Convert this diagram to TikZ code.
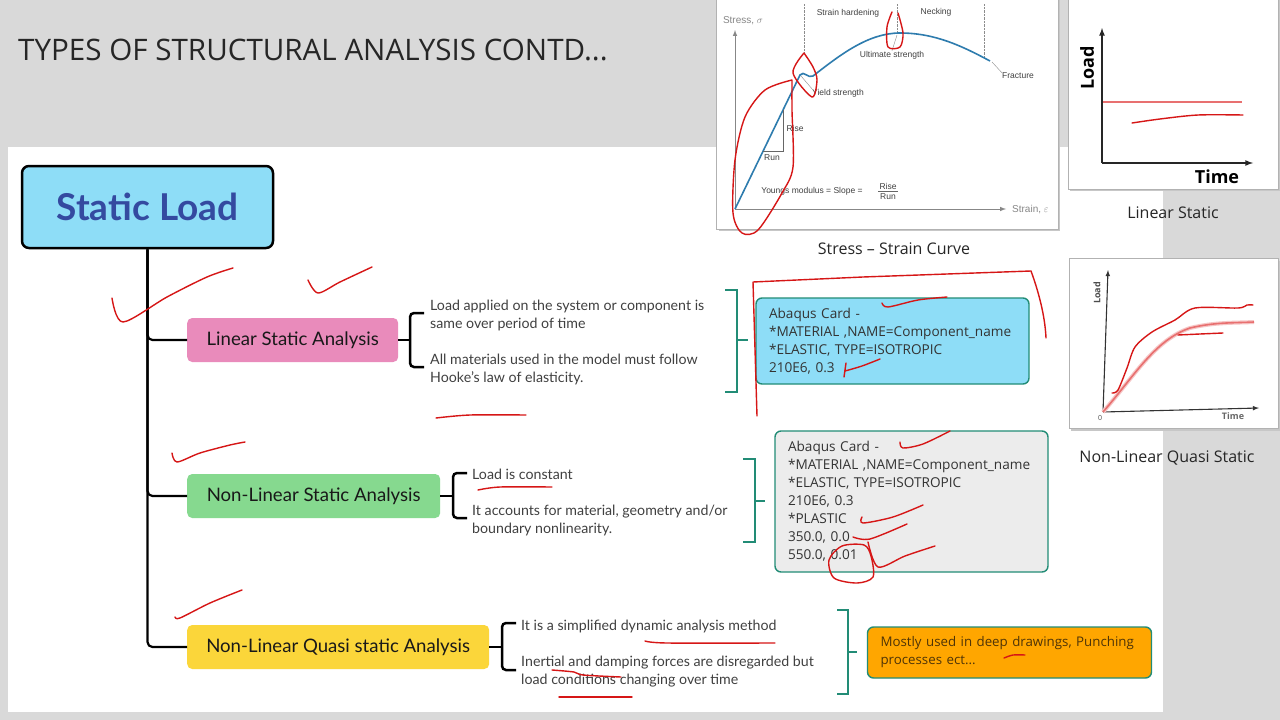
\documentclass[tikz,border=0pt]{standalone}
\usepackage{fontspec}
\setmainfont{Lato}
\newfontfamily\slidefont{Open Sans}
\newfontfamily\plotfont{Liberation Sans}
\usetikzlibrary{positioning}
\definecolor{slidegray}{RGB}{217,217,217}
\definecolor{skyfill}{RGB}{142,221,247}
\definecolor{rootblue}{RGB}{52,74,160}
\definecolor{pinkfill}{RGB}{233,139,187}
\definecolor{greenfill}{RGB}{134,217,143}
\definecolor{yellowfill}{RGB}{251,214,58}
\definecolor{orangefill}{RGB}{255,166,0}
\definecolor{tealline}{RGB}{34,140,118}
\definecolor{cardgray}{RGB}{236,236,236}
\definecolor{inkred}{RGB}{214,22,22}
\definecolor{curveblue}{RGB}{46,124,174}
\definecolor{loadred}{RGB}{232,112,112}
\definecolor{axisgray}{RGB}{135,135,135}

\begin{document}
\begin{tikzpicture}
		[x=1pt,y=-1pt,>=latex,
		root/.style={draw=black,line width=2.5pt,rounded corners=7pt,fill=skyfill,minimum width=251pt,minimum height=82pt,text=rootblue,font=\bfseries\fontsize{37}{42}\selectfont},
		topic/.style={rounded corners=5pt,minimum height=44pt,anchor=west,text=black!90,font=\fontsize{18.6}{22}\selectfont},
		note/.style={anchor=base west,inner sep=0pt,align=left,text=black!75,font=\fontsize{14.2}{18}\selectfont},
		card/.style={draw=tealline,line width=1.4pt,rounded corners=6pt,inner xsep=13pt,align=left,text=black!80,font=\slidefont\fontsize{13.6}{18}\selectfont},
		trunk/.style={line width=2.2pt,rounded corners=5pt},
		bracestroke/.style={line width=2.5pt,rounded corners=4pt},
		bracket/.style={draw=tealline,line width=1.6pt},
		frame/.style={draw=black!30,fill=white},
		lbl/.style={inner sep=0pt,text=black!75,font=\plotfont\fontsize{8.5}{10}\selectfont},
		caption/.style={inner sep=0pt,text=black!85,font=\slidefont\fontsize{16}{20}\selectfont},
		ink/.style={draw=inkred,line width=1.4pt,line cap=round,line join=round}]
		\useasboundingbox (0,0) rectangle (1280,720);
		\fill[slidegray] (0,0) rectangle (1280,720);
		\fill[white] (8,147) rectangle (1163,712);

		\node [anchor=base west,inner sep=0pt,text=black!85,font=\slidefont\fontsize{29.6}{34}\selectfont] (title) at (18,60) {TYPES OF STRUCTURAL ANALYSIS CONTD...};

		\node [root] (static) at (147.5,207) {Static Load};
		\node [topic,fill=pinkfill,minimum width=211pt] (ls) at (187,340) {Linear Static Analysis};
		\node [topic,fill=greenfill,minimum width=253pt] (nls) at (187,496) {Non-Linear Static Analysis};
		\node [topic,fill=yellowfill,minimum width=302pt] (nqs) at (187,647) {Non-Linear Quasi static Analysis};
		\draw [trunk] (static.south) |- (ls.west);
		\draw [trunk] (static.south) |- (nls.west);
		\draw [trunk] (static.south) |- (nqs.west);

		\coordinate (lsb) at (410,340);
		\coordinate (nlsb) at (453,496);
		\coordinate (nqsb) at (502,647);
		\draw [bracestroke] (ls.east) -- (lsb);
		\draw [bracestroke] (424,313) -- (410,313) -- (410,367) -- (424,367);
		\draw [bracestroke] (nls.east) -- (nlsb);
		\draw [bracestroke] (467,473) -- (453,473) -- (453,518) -- (467,518);
		\draw [bracestroke] (nqs.east) -- (nqsb);
		\draw [bracestroke] (516,623) -- (502,623) -- (502,670) -- (516,670);

		\node [note] (ls1) at (430,328) {Load applied on the system or component is\\same over period of time};
		\node [note] (ls2) at (430,382) {All materials used in the model must follow\\Hooke's law of elasticity.};
		\node [note] (nls1) at (472,479) {Load is constant};
		\node [note] (nls2) at (472,533) {It accounts for material, geometry and/or\\boundary nonlinearity.};
		\node [note] (nqs1) at (521,630) {It is a simplified dynamic analysis method};
		\node [note] (nqs2) at (521,684) {Inertial and damping forces are disregarded but\\load conditions changing over time};

		\draw [bracket] (725,290) -- (737,290) -- (737,392) -- (725,392);
		\draw [bracket] (737,340) -- (748,340);
		\draw [bracket] (743,459) -- (755,459) -- (755,542) -- (743,542);
		\draw [bracket] (755,501) -- (765,501);
		\draw [bracket] (837,610) -- (848,610) -- (848,694) -- (837,694);
		\draw [bracket] (848,652) -- (857,652);

		\node [card,fill=skyfill,text width=247pt,minimum height=86pt] (lscard) at (892.5,341) {Abaqus Card -\\{*}MATERIAL ,NAME=Component\_name\\{*}ELASTIC, TYPE=ISOTROPIC\\210E6, 0.3};
		\node [card,fill=cardgray,text width=247pt,minimum height=141pt] (nlscard) at (911.5,501.5) {Abaqus Card -\\{*}MATERIAL ,NAME=Component\_name\\{*}ELASTIC, TYPE=ISOTROPIC\\210E6, 0.3\\{*}PLASTIC\\350.0, 0.0\\550.0, 0.01};
		\node [card,fill=orangefill,text width=258pt,minimum height=51pt,font=\slidefont\fontsize{13.3}{18}\selectfont,text={rgb,255:red,78;green,52;blue,8}] (nqscard) at (1009.5,652.5) {Mostly used in deep drawings, Punching\\processes ect...};

		% stress strain picture
		\fill [black!22] (719,0) rectangle (1060,231);
		\draw [frame] (716,-2) rectangle (1058,229);
		\coordinate (so) at (735,209);
		\draw [axisgray,line width=1pt,->] (so) -- (735,30);
		\draw [axisgray,line width=1pt,->] (so) -- (1006,209);
		\node [lbl,text=axisgray,font=\plotfont\fontsize{10}{12}\selectfont] (stress) at (743,21) {Stress, $\sigma$};
		\node [lbl,text=axisgray,font=\plotfont\fontsize{10}{12}\selectfont,anchor=west] (strain) at (1012,210) {Strain, $\varepsilon$};
		\draw [black!45,densely dotted] (804,4) -- (804,53);
		\draw [black!45,densely dotted] (897,4) -- (897,34);
		\draw [black!45,densely dotted] (984,4) -- (984,58);
		\draw [curveblue,line width=1.6pt] (so) -- (800,75) .. controls (804,70) and (808,79) .. (813,76) .. controls (840,55) and (868,33) .. (900,33) .. controls (935,33) and (962,46) .. (990,61);
		\draw [black!60] (763,151) -- (783,151) -- (783,110);
		\node [lbl] (hard) at (848,13) {Strain hardening};
		\node [lbl] (neck) at (936,12) {Necking};
		\node [lbl] (ult) at (892,55) {Ultimate strength};
		\node [lbl] (yield) at (838,93) {Yield strength};
		\node [lbl] (frac) at (1018,76) {Fracture};
		\node [lbl] (rise) at (795,128) {Rise};
		\node [lbl] (run) at (772,158) {Run};
		\node [lbl] (young) at (812,191) {Youngs modulus = Slope =};
		\node [lbl] (frac1) at (888,186) {Rise};
		\node [lbl] (frac2) at (888,197) {Run};
		\draw [black!60] (878,191.5) -- (898,191.5);
		\draw [black!45] (ult.north) -- (897,35);
		\draw [black!45] (yield.north west) -- (801,76);
		\draw [black!45] (frac.north west) -- (992,62);
		\node [caption,below=34pt of so,xshift=159pt] (sscap) {Stress – Strain Curve};

		% load graphs
		\fill [black!22] (1070,0) rectangle (1280,191);
		\draw [frame] (1068,-2) rectangle (1278,189);
		\coordinate (lo) at (1102,163);
		\draw [black!85,line width=1.6pt,->] (lo) -- (1102,28);
		\draw [black!85,line width=1.6pt,->] (lo) -- (1253,163);
		\draw [loadred,line width=1.8pt] (1103,102) -- (1242,102);
		\node [rotate=90,inner sep=0pt,font=\slidefont\bfseries\fontsize{18}{20}\selectfont] (lload) at (1087,68) {Load};
		\node [inner sep=0pt,font=\slidefont\bfseries\fontsize{18}{20}\selectfont] (ltime) at (1217,177) {Time};
		\node [caption] (lcap) at (1173,213) {Linear Static};

		\fill [black!22] (1071,261) rectangle (1280,431);
		\draw [frame] (1069,258) rectangle (1278,428);
		\coordinate (qo) at (1103,412);
		\draw [black!80,line width=1.1pt,->] (qo) -- (1108,270);
		\draw [black!80,line width=1.1pt,->] (qo) -- (1259,408);
		\draw [loadred!40,line width=4pt] (qo) .. controls (1135,375) and (1155,340) .. (1190,328) .. controls (1215,322) and (1235,323) .. (1254,322);
		\draw [loadred,line width=1.6pt] (qo) .. controls (1135,375) and (1155,340) .. (1190,328) .. controls (1215,322) and (1235,323) .. (1254,322);
		\node [rotate=90,inner sep=0pt,text=black!70,font=\slidefont\bfseries\fontsize{9}{10}\selectfont] (qload) at (1097,293) {Load};
		\node [inner sep=0pt,text=black!60,font=\slidefont\bfseries\fontsize{9}{10}\selectfont] (qtime) at (1233,416) {Time};
		\node [inner sep=0pt,text=black!70,font=\slidefont\fontsize{7}{8}\selectfont] (qzero) at (1100,418) {0};
		\node [caption] (qcap) at (1167,458) {Non-Linear Quasi Static};

		% red pen
		\draw [ink] plot [smooth] coordinates {(112,298) (123,322) (167,297) (207,277) (233,268)};
		\draw [ink] plot [smooth] coordinates {(308,280) (318,293) (340,282) (372,267)};
		\draw [ink] plot [smooth] coordinates {(172,453) (177,462) (200,453) (230,445) (245,442)};
		\draw [ink] plot [smooth] coordinates {(175,617) (180,618) (210,603) (242,590)};
		\draw [ink] plot [smooth] coordinates {(436,418) (470,415) (526,415)};
		\draw [ink] (757,416) -- (753,282) -- (863,277) -- (1031,271) .. controls (1038,290) and (1045,315) .. (1046,338);
		\draw [ink] plot [smooth] coordinates {(882,303) (888,307) (918,300) (947,297)};
		\draw [ink] (846,363) -- (844,377);
		\draw [ink] plot [smooth] coordinates {(845,371) (862,366) (880,359)};
		\draw [ink] plot [smooth] coordinates {(478,490) (500,487) (552,487)};
		\draw [ink] plot [smooth] coordinates {(900,442) (903,448) (923,444) (950,431)};
		\draw [ink] plot [smooth] coordinates {(862,517) (863,523) (893,517) (923,505)};
		\draw [ink] plot [smooth] coordinates {(853,537) (870,539) (907,524)};
		\draw [ink] plot [smooth] coordinates {(868,542) (878,567) (905,556) (935,546)};
		\draw [ink] plot [smooth cycle] coordinates {(864,545) (842,546) (829,560) (834,578) (857,583) (873,577) (871,556)};
		\draw [ink] plot [smooth] coordinates {(645,641) (667,643) (775,643)};
		\draw [ink] plot [smooth] coordinates {(552,670) (574,672) (583,675) (621,677)};
		\draw [ink] plot [smooth] coordinates {(559,697) (632,697)};
		\draw [ink] plot [smooth] coordinates {(1004,658) (1013,655) (1025,655)};
		\draw [ink] plot [smooth] coordinates {(792,80) (765,90) (745,117) (735,160) (733,213) (742,233) (758,230) (782,193) (793,167) (792,110) (792,80)};
		\draw [ink] plot [smooth] coordinates {(804,53) (793,73) (812,97) (817,80) (813,67) (804,53)};
		\draw [ink] plot [smooth] coordinates {(892,12) (887,27) (888,47) (900,47) (903,33) (898,13)};
		\draw [ink] plot [smooth] coordinates {(1132,123) (1160,119) (1198,115) (1243,115)};
		\draw [ink] plot [smooth] coordinates {(1112,393) (1118,390) (1127,368) (1135,347) (1152,332) (1175,320) (1195,308) (1238,308) (1247,305) (1253,305)};
		\draw [ink] plot [smooth] coordinates {(1178,335) (1200,334) (1223,333)};
	\end{tikzpicture}
\end{document}
